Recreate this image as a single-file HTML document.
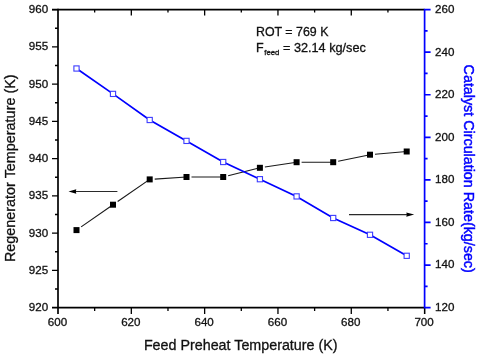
<!DOCTYPE html>
<html><head><meta charset="utf-8"><style>
html,body{margin:0;padding:0;background:#fff;}
svg{display:block;will-change:transform;}
text{font-family:"Liberation Sans",sans-serif;font-size:11.6px;fill:#111;stroke:#111;stroke-width:0.3px;}
</style></head><body>
<svg width="477" height="355" viewBox="0 0 477 355">
<rect width="477" height="355" fill="#fff"/>
<path d="M52.0,307.6 H424.6 M52.0,9.6 H424.6" stroke="#000" stroke-width="1.7" fill="none"/>
<path d="M58.0,8.799999999999999 V314.0" stroke="#000" stroke-width="1.7" fill="none"/>
<path d="M55.0,288.98 H58.0 M52.0,270.35 H58.0 M55.0,251.73 H58.0 M52.0,233.10 H58.0 M55.0,214.48 H58.0 M52.0,195.85 H58.0 M55.0,177.23 H58.0 M52.0,158.60 H58.0 M55.0,139.98 H58.0 M52.0,121.35 H58.0 M55.0,102.73 H58.0 M52.0,84.10 H58.0 M55.0,65.48 H58.0 M52.0,46.85 H58.0 M55.0,28.23 H58.0 M52.0,9.60 H58.0 M94.66,307.6 V311.0 M94.66,9.6 V12.6 M131.32,307.6 V314.0 M131.32,9.6 V15.6 M167.98,307.6 V311.0 M167.98,9.6 V12.6 M204.64,307.6 V314.0 M204.64,9.6 V15.6 M241.30,307.6 V311.0 M241.30,9.6 V12.6 M277.96,307.6 V314.0 M277.96,9.6 V15.6 M314.62,307.6 V311.0 M314.62,9.6 V12.6 M351.28,307.6 V314.0 M351.28,9.6 V15.6 M387.94,307.6 V311.0 M387.94,9.6 V12.6 M424.60,307.6 V314.0" stroke="#000" stroke-width="1.3" fill="none"/>
<path d="M424.60,307.6 V314.0" stroke="#000" stroke-width="1.3"/>
<path d="M424.6,8.799999999999999 V308.40000000000003 M424.6,307.60 H430.6 M424.6,286.31 H427.6 M424.6,265.03 H430.6 M424.6,243.74 H427.6 M424.6,222.46 H430.6 M424.6,201.17 H427.6 M424.6,179.89 H430.6 M424.6,158.60 H427.6 M424.6,137.31 H430.6 M424.6,116.03 H427.6 M424.6,94.74 H430.6 M424.6,73.46 H427.6 M424.6,52.17 H430.6 M424.6,30.89 H427.6 M424.6,9.60 H430.6" stroke="#0000ff" stroke-width="1.7" fill="none"/>
<text x="48.2" y="311.05" text-anchor="end">920</text>
<text x="48.2" y="273.80" text-anchor="end">925</text>
<text x="48.2" y="236.55" text-anchor="end">930</text>
<text x="48.2" y="199.30" text-anchor="end">935</text>
<text x="48.2" y="162.05" text-anchor="end">940</text>
<text x="48.2" y="124.80" text-anchor="end">945</text>
<text x="48.2" y="87.55" text-anchor="end">950</text>
<text x="48.2" y="50.30" text-anchor="end">955</text>
<text x="48.2" y="13.05" text-anchor="end">960</text>
<text x="57.50" y="326.3" text-anchor="middle">600</text>
<text x="130.82" y="326.3" text-anchor="middle">620</text>
<text x="204.14" y="326.3" text-anchor="middle">640</text>
<text x="277.46" y="326.3" text-anchor="middle">660</text>
<text x="350.78" y="326.3" text-anchor="middle">680</text>
<text x="424.10" y="326.3" text-anchor="middle">700</text>
<text x="435" y="311.05">120</text>
<text x="435" y="268.48">140</text>
<text x="435" y="225.91">160</text>
<text x="435" y="183.34">180</text>
<text x="435" y="140.76">200</text>
<text x="435" y="98.19">220</text>
<text x="435" y="55.62">240</text>
<text x="435" y="13.05">260</text>
<path d="M81.14,226.87 L113.00,204.70 M117.65,201.50 L149.70,179.40 M154.70,179.07 L186.50,177.00 M191.50,177.00 L223.20,177.00 M228.14,175.76 L259.90,167.80 M264.88,167.04 L296.60,162.20 M301.60,162.20 L333.20,162.20 M338.16,161.19 L370.00,154.70 M374.99,154.26 L406.70,151.50" stroke="#1a1a1a" stroke-width="1.15" fill="none"/>
<rect x="73.50" y="227.10" width="6" height="6" fill="#000"/>
<rect x="110.00" y="201.70" width="6" height="6" fill="#000"/>
<rect x="146.70" y="176.40" width="6" height="6" fill="#000"/>
<rect x="183.50" y="174.00" width="6" height="6" fill="#000"/>
<rect x="220.20" y="174.00" width="6" height="6" fill="#000"/>
<rect x="256.90" y="164.80" width="6" height="6" fill="#000"/>
<rect x="293.60" y="159.20" width="6" height="6" fill="#000"/>
<rect x="330.20" y="159.20" width="6" height="6" fill="#000"/>
<rect x="367.00" y="151.70" width="6" height="6" fill="#000"/>
<rect x="403.70" y="148.50" width="6" height="6" fill="#000"/>
<polyline points="76.5,68.5 113,93.9 149.7,120 186.5,140.9 223.2,162 259.9,179.2 296.6,196.4 333.2,218 370,234.8 406.7,255.8" stroke="#0000ff" stroke-width="1.7" fill="none"/>
<rect x="73.90" y="65.90" width="5.2" height="5.2" fill="#fff" stroke="#3c3cff" stroke-width="1.1"/>
<rect x="110.40" y="91.30" width="5.2" height="5.2" fill="#fff" stroke="#3c3cff" stroke-width="1.1"/>
<rect x="147.10" y="117.40" width="5.2" height="5.2" fill="#fff" stroke="#3c3cff" stroke-width="1.1"/>
<rect x="183.90" y="138.30" width="5.2" height="5.2" fill="#fff" stroke="#3c3cff" stroke-width="1.1"/>
<rect x="220.60" y="159.40" width="5.2" height="5.2" fill="#fff" stroke="#3c3cff" stroke-width="1.1"/>
<rect x="257.30" y="176.60" width="5.2" height="5.2" fill="#fff" stroke="#3c3cff" stroke-width="1.1"/>
<rect x="294.00" y="193.80" width="5.2" height="5.2" fill="#fff" stroke="#3c3cff" stroke-width="1.1"/>
<rect x="330.60" y="215.40" width="5.2" height="5.2" fill="#fff" stroke="#3c3cff" stroke-width="1.1"/>
<rect x="367.40" y="232.20" width="5.2" height="5.2" fill="#fff" stroke="#3c3cff" stroke-width="1.1"/>
<rect x="404.10" y="253.20" width="5.2" height="5.2" fill="#fff" stroke="#3c3cff" stroke-width="1.1"/>
<path d="M75,191.5 H117.4" stroke="#2a2a2a" stroke-width="1.05"/>
<path d="M68.5,191.5 L76.3,189.3 L75.8,191.5 L76.3,193.7 Z" fill="#000"/>
<path d="M349,214.6 H407" stroke="#2a2a2a" stroke-width="1.05"/>
<path d="M414.2,214.6 L406.3,212.5 L406.8,214.6 L406.3,216.7 Z" fill="#000"/>
<text x="256" y="36.2" style="font-size:12.4px">ROT = 769 K</text>
<text x="256" y="52.3" style="font-size:12.5px">F<tspan style="font-size:7.8px" dx="0.6" dy="2.3">feed</tspan><tspan dy="-2.3" style="font-size:12.7px"> = 32.14 kg/sec</tspan></text>
<text x="143.9" y="349.6" style="font-size:14.3px">Feed Preheat Temperature (K)</text>
<text transform="translate(14.8,262.1) rotate(-90)" style="font-size:14.4px">Regenerator Temperature (K)</text>
<text transform="translate(463.9,64.6) rotate(90)" style="font-size:14.3px;fill:#0000ff;stroke:#0000ff;stroke-width:0.45px">Catalyst Circulation Rate(kg/sec)</text>
</svg></body></html>
